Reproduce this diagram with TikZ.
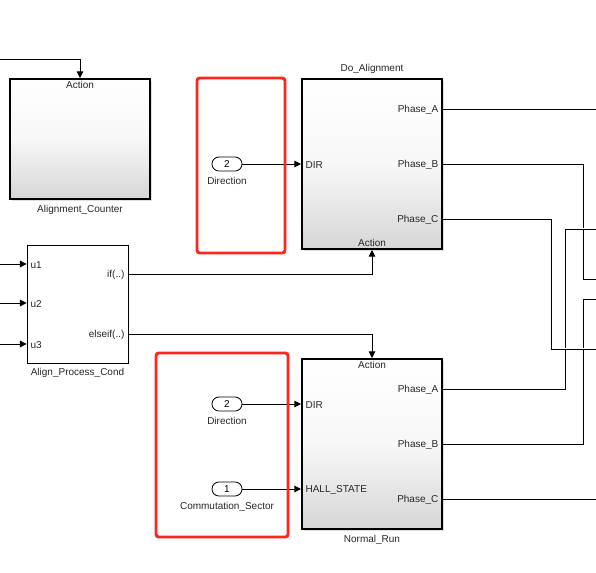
\documentclass[tikz,border=0pt]{standalone}
\usepackage{fontspec}
\setmainfont{Liberation Sans}
\usetikzlibrary{arrows.meta,positioning,shadows}
\definecolor{markred}{RGB}{255,38,28}
\newcommand{\slfont}{\fontsize{7.5}{9}\selectfont}
\tikzstyle{subsys} = [rectangle, draw=black, line width=1.5pt, minimum width=105pt, minimum height=127.5pt, top color=white, bottom color=black!16, middle color=white!97!black, drop shadow={shadow xshift=1.3pt, shadow yshift=-1.3pt, opacity=0.25}]
\tikzstyle{condblk} = [rectangle, draw=black, line width=0.6pt, fill=white, minimum width=75.75pt, minimum height=88.5pt, drop shadow={shadow xshift=1pt, shadow yshift=-1pt, opacity=0.2}]
\tikzstyle{inport} = [rectangle, rounded corners=5.2pt, draw=black, line width=0.6pt, fill=white, minimum width=22.5pt, minimum height=10.5pt, inner sep=0pt]
\tikzstyle{portl} = [inner sep=1pt, text=black!85]
\tikzstyle{lbl} = [inner sep=1pt, text=black!85]
\tikzstyle{wire} = [line width=0.7pt]
\tikzstyle{hopwire} = [wire, preaction={draw=white, line width=2.2pt}]
\tikzstyle{arrow} = [wire, -{Triangle[length=5pt,width=5pt]}]
\tikzstyle{redbox} = [draw=markred, line width=2.2pt, rounded corners=2pt]

\begin{document}
\begin{tikzpicture}[x=0.75pt, y=-0.75pt, font=\slfont]
	\useasboundingbox (0,0) rectangle (596,572);

	% blocks
	\node (ac) [subsys, minimum height=90pt] at (80,139) {};
	\node (da) [subsys] at (372,164) {};
	\node (nr) [subsys] at (372,444) {};
	\node (apc) [condblk] at (77.5,304) {};

	\node [lbl, below=2.5pt of ac] {Alignment\_Counter};
	\node [lbl, above=2pt of da] {Do\_Alignment};
	\node [lbl, below=2.5pt of nr] {Normal\_Run};
	\node [lbl, below=2.5pt of apc] {Align\_Process\_Cond};

	% ports
	\node (acAct) [portl, below=1pt of ac.north] {Action};
	\node (daAct) [portl, above=1pt of da.south] {Action};
	\node (nrAct) [portl, below=1pt of nr.north] {Action};
	\node (daDIR) [portl, anchor=west] at (304,165) {DIR};
	\node (daPA) [portl, anchor=east] at (440,110) {Phase\_A};
	\node (daPB) [portl, anchor=east] at (440,165) {Phase\_B};
	\node (daPC) [portl, anchor=east] at (440,220) {Phase\_C};
	\node (nrDIR) [portl, anchor=west] at (304,405) {DIR};
	\node (nrHS) [portl, anchor=west] at (304,490) {HALL\_STATE};
	\node (nrPA) [portl, anchor=east] at (440,390) {Phase\_A};
	\node (nrPB) [portl, anchor=east] at (440,445) {Phase\_B};
	\node (nrPC) [portl, anchor=east] at (440,500) {Phase\_C};
	\node (apcU1) [portl, anchor=west] at (29,265) {u1};
	\node (apcU2) [portl, anchor=west] at (29,304) {u2};
	\node (apcU3) [portl, anchor=west] at (29,345) {u3};
	\node (apcIf) [portl, anchor=east] at (126,275) {if(..)};
	\node (apcElse) [portl, anchor=east] at (126,335) {elseif(..)};

	% inports
	\node (dirA) [inport] at (227,164) {2};
	\node [lbl, below=3pt of dirA] {Direction};
	\node (dirB) [inport] at (227,404) {2};
	\node [lbl, below=3pt of dirB] {Direction};
	\node (sect) [inport] at (227,489) {1};
	\node [lbl, below=3pt of sect] {Commutation\_Sector};

	% free ends
	\coordinate (topin) at (0,59);
	\coordinate (u1in) at (0,264);
	\coordinate (u2in) at (0,303);
	\coordinate (u3in) at (0,344);
	\coordinate (outA1) at (596,109);
	\coordinate (outB1) at (596,279);
	\coordinate (outC1) at (596,349);
	\coordinate (outA2) at (596,229);
	\coordinate (outB2) at (596,299);
	\coordinate (outC2) at (596,499);

	\draw[arrow] (topin) -| (ac.north);
	\draw[arrow] (u1in) -- (u1in -| apc.west);
	\draw[arrow] (u2in) -- (u2in -| apc.west);
	\draw[arrow] (u3in) -- (u3in -| apc.west);
	\draw[arrow] (apc.east |- 0,274) -| (da.south);
	\draw[arrow] (apc.east |- 0,334) -| (nr.north);
	\draw[arrow] (dirA) -- (dirA -| da.west);
	\draw[arrow] (dirB) -- (dirB -| nr.west);
	\draw[arrow] (sect) -- (sect -| nr.west);

	\draw[wire] (da.east |- outA1) -- (outA1);
	\draw[wire] (da.east |- 0,164) -- ++(140,0) |- (outB1);
	\draw[wire] (nr.east |- 0,444) -- ++(140,0) |- (outB2);
	\draw[hopwire] (nr.east |- 0,389) -- ++(122,0) |- (outA2);
	\draw[hopwire] (da.east |- 0,219) -- ++(108,0) |- (outC1);
	\draw[wire] (nr.east |- outC2) -- (outC2);

	% highlight frames
	\draw[redbox] (197,78) rectangle (285,253);
	\draw[redbox] (156,353) rectangle (288,537);
\end{tikzpicture}
\end{document}
